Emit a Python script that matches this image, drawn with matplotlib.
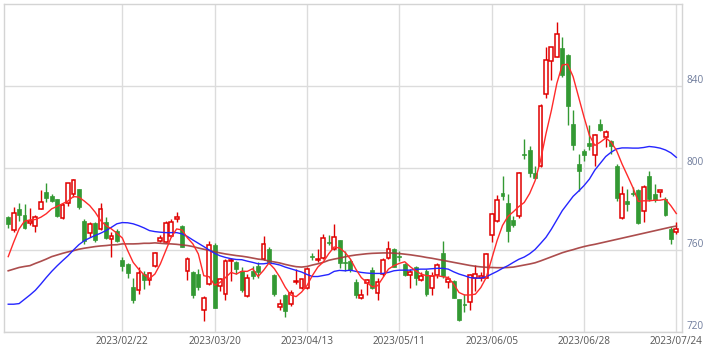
import matplotlib
matplotlib.use("Agg")
import matplotlib.pyplot as plt
from matplotlib.transforms import ScaledTranslation

plt.rcParams['font.family'] = ['Open Sans', 'DejaVu Sans']

# daily candles, oldest first (one per trading day)
opens = [775.7, 769.6, 779.6, 777.0, 773.1, 771.6, 779.9, 788.2, 786.3, 784.8,
         775.5, 782.9, 787.3, 789.4, 774.2, 768.2, 773.2, 770.1, 773.7, 765.2,
         769.3, 755.1, 753.0, 741.9, 740.2, 748.2, 745.1, 752.0, 764.4, 763.7,
         766.7, 775.0, 771.7, 749.7, 749.2, 748.1, 730.4, 743.2, 762.3, 742.4,
         738.3, 754.6, 753.8, 749.4, 737.6, 749.5, 751.8, 755.6, 760.5, 747.4,
         732.2, 738.0, 733.5, 744.0, 741.4, 741.4, 756.7, 754.9, 756.1, 763.9,
         760.5, 764.6, 754.1, 754.6, 744.3, 736.3, 743.5, 750.0, 738.8, 748.1,
         755.9, 760.3, 757.1, 753.0, 747.6, 751.7, 745.1, 749.7, 741.2, 747.6,
         758.4, 744.0, 744.8, 735.7, 733.5, 734.4, 746.4, 746.4, 746.4, 766.9,
         774.2, 787.8, 782.7, 774.5, 776.2, 806.2, 808.7, 797.4, 800.8, 836.1,
         852.1, 854.0, 858.1, 854.9, 821.1, 801.8, 808.3, 812.1, 806.2, 821.1,
         814.9, 813.2, 801.0, 775.3, 783.8, 787.6, 789.2, 778.8, 795.9, 787.3,
         788.1, 784.6, 769.9, 768.6]
highs = [776.6, 780.7, 782.9, 782.4, 780.4, 777.0, 789.2, 792.7, 787.3, 784.8,
         782.7, 792.7, 794.6, 789.7, 774.7, 773.5, 773.7, 782.7, 775.8, 768.5,
         770.1, 756.6, 753.5, 746.4, 751.7, 749.4, 748.9, 758.7, 766.9, 774.2,
         775.0, 778.5, 772.2, 756.2, 749.7, 750.5, 737.3, 764.4, 763.1, 746.4,
         755.4, 755.9, 754.6, 751.5, 748.2, 751.8, 753.8, 766.5, 761.3, 748.2,
         736.0, 738.4, 740.4, 750.7, 745.8, 751.5, 758.4, 760.5, 767.8, 767.3,
         772.4, 764.9, 759.5, 755.4, 745.6, 740.7, 745.6, 751.7, 746.1, 755.9,
         764.4, 760.7, 759.5, 753.3, 750.5, 752.2, 749.2, 750.5, 748.9, 753.3,
         764.4, 747.3, 745.1, 735.8, 738.3, 748.1, 752.7, 749.2, 758.2, 777.8,
         786.5, 795.8, 787.3, 776.5, 797.7, 814.0, 810.3, 801.0, 830.9, 858.6,
         858.6, 871.2, 863.8, 855.2, 827.9, 806.4, 809.0, 820.6, 816.5, 823.5,
         818.1, 813.5, 801.8, 791.2, 789.5, 790.4, 789.5, 791.3, 798.5, 792.0,
         789.2, 785.5, 770.8, 773.7]
lows = [770.6, 768.5, 774.2, 770.1, 772.2, 768.5, 779.9, 783.2, 783.2, 775.8,
        775.0, 781.5, 785.9, 779.9, 762.8, 766.4, 763.6, 769.6, 765.1, 756.2,
        763.6, 749.4, 746.4, 734.2, 738.6, 740.7, 742.7, 751.7, 763.6, 763.6,
        766.4, 773.4, 761.1, 745.1, 736.6, 740.2, 725.2, 742.9, 731.7, 739.9,
        735.3, 744.5, 748.1, 739.3, 737.1, 745.8, 746.1, 755.1, 753.2, 737.6,
        730.6, 727.0, 732.7, 743.3, 740.9, 740.9, 755.1, 754.0, 755.6, 762.1,
        760.0, 751.0, 749.7, 748.9, 736.3, 735.8, 738.0, 740.7, 735.3, 747.3,
        755.4, 751.3, 754.6, 747.3, 741.5, 742.9, 744.8, 737.5, 738.0, 746.4,
        746.4, 741.5, 736.3, 725.2, 729.8, 730.4, 739.6, 744.8, 746.1, 763.6,
        773.4, 784.0, 763.9, 770.8, 775.3, 804.2, 795.6, 794.4, 800.5, 834.1,
        842.6, 853.7, 844.3, 820.6, 808.7, 788.7, 803.4, 808.7, 801.0, 817.8,
        810.0, 806.7, 783.8, 774.8, 778.9, 786.3, 772.7, 773.5, 783.8, 783.0,
        785.5, 776.5, 762.6, 767.8]
closes = [772.4, 778.1, 776.8, 770.4, 773.9, 775.8, 783.3, 785.1, 783.7, 776.3,
          782.0, 792.7, 794.1, 780.7, 764.1, 772.6, 764.7, 779.9, 765.6, 766.7,
          764.1, 752.1, 748.4, 735.5, 748.6, 745.1, 748.6, 758.4, 765.7, 773.1,
          773.5, 776.0, 761.5, 755.4, 737.9, 741.9, 736.3, 762.3, 731.7, 745.6,
          754.6, 754.9, 750.5, 740.1, 746.3, 747.1, 749.1, 762.9, 754.0, 738.4,
          733.5, 729.9, 738.9, 744.5, 745.5, 750.7, 756.4, 755.6, 765.9, 763.4,
          766.2, 753.5, 753.5, 750.0, 738.1, 738.0, 745.1, 741.5, 744.2, 755.1,
          760.3, 751.7, 756.2, 747.8, 748.9, 746.1, 747.1, 738.3, 747.1, 752.7,
          747.3, 745.8, 736.6, 725.5, 733.2, 747.6, 748.1, 747.3, 757.9, 777.5,
          784.0, 786.3, 769.0, 772.2, 797.4, 805.9, 797.2, 794.9, 830.2, 852.3,
          858.6, 865.0, 845.2, 830.0, 810.9, 798.2, 806.0, 810.3, 816.0, 818.1,
          817.5, 810.3, 785.4, 787.1, 782.2, 787.3, 773.2, 790.5, 784.6, 784.3,
          789.2, 777.0, 765.0, 769.9]

# moving average lines
ma_short = [756.6, 763.6, 770.1, 773.9, 774.5, 774.7, 775.8, 777.5, 779.9, 781.1,
            782.4, 783.7, 785.9, 785.6, 783.7, 781.5, 778.3, 774.2, 771.7, 770.1,
            768.0, 765.7, 759.5, 753.8, 750.5, 747.7, 745.9, 748.1, 753.0, 759.5,
            766.0, 770.1, 769.6, 765.7, 762.8, 757.9, 747.3, 746.8, 742.7, 744.0,
            746.4, 748.9, 748.1, 749.5, 749.4, 750.7, 746.9, 749.9, 753.5, 750.7,
            746.6, 741.7, 737.9, 737.1, 739.3, 742.5, 747.4, 751.5, 754.0, 758.0,
            761.3, 760.8, 758.7, 755.4, 750.5, 746.4, 744.0, 741.9, 742.4, 746.4,
            750.5, 752.2, 753.3, 754.1, 751.7, 749.7, 748.1, 747.3, 747.3, 747.3,
            746.8, 746.4, 743.2, 739.1, 737.9, 737.9, 738.3, 741.5, 746.4, 755.4,
            764.4, 771.8, 776.2, 778.5, 781.0, 783.0, 787.4, 793.6, 803.4, 816.5,
            827.9, 841.0, 850.0, 850.4, 844.3, 834.5, 824.7, 815.7, 810.8, 812.4,
            814.4, 812.4, 808.3, 801.8, 796.1, 790.3, 783.5, 783.8, 783.8, 784.1,
            784.1, 784.6, 781.4, 777.6]
ma_mid = [733.4, 733.4, 733.7, 735.8, 737.9, 740.2, 743.2, 746.4, 749.4, 752.1,
          754.6, 757.0, 759.8, 762.4, 764.4, 765.7, 766.9, 768.0, 769.3, 770.9,
          772.6, 773.2, 773.1, 772.6, 771.7, 770.6, 769.3, 768.8, 768.5, 768.3,
          768.3, 768.3, 767.7, 766.4, 764.7, 763.1, 761.5, 759.8, 758.2, 757.0,
          756.2, 755.6, 755.2, 755.1, 754.4, 753.8, 753.1, 753.1, 753.5, 753.1,
          752.5, 751.5, 750.7, 749.9, 749.1, 747.9, 746.9, 746.9, 747.4, 747.9,
          749.4, 749.9, 749.7, 750.0, 749.4, 748.9, 748.6, 748.4, 748.4, 748.4,
          748.9, 749.7, 750.0, 750.0, 750.0, 750.4, 750.5, 750.5, 750.7, 750.9,
          750.9, 750.5, 749.2, 748.1, 747.3, 746.4, 746.1, 746.1, 746.8, 748.1,
          749.4, 750.9, 752.2, 753.8, 755.3, 756.4, 758.0, 760.1, 763.0, 766.0,
          770.0, 774.5, 779.0, 782.5, 786.0, 788.5, 791.2, 794.4, 798.8, 802.1,
          805.4, 807.5, 809.1, 809.6, 809.6, 809.5, 809.5, 809.8, 810.3, 810.0,
          809.5, 808.6, 807.2, 805.0]
ma_long = [749.7, 750.5, 751.3, 751.8, 752.2, 753.3, 754.3, 755.4, 756.6, 757.4,
           758.2, 758.9, 759.5, 760.2, 760.7, 761.1, 761.5, 761.8, 762.0, 762.3,
           762.4, 762.8, 762.8, 762.8, 762.9, 763.1, 763.1, 763.3, 763.1, 762.9,
           762.8, 762.6, 762.3, 762.0, 761.5, 760.8, 760.2, 759.6, 759.0, 758.4,
           757.9, 757.5, 757.1, 756.8, 756.4, 755.9, 755.4, 755.1, 754.4, 754.0,
           753.5, 752.8, 752.2, 751.7, 751.5, 751.8, 752.5, 753.1, 753.8, 754.8,
           755.4, 755.9, 756.5, 757.0, 757.4, 757.7, 758.0, 758.2, 758.3, 758.4,
           758.4, 758.3, 758.1, 757.8, 757.5, 757.1, 756.7, 756.2, 755.8, 755.3,
           754.8, 754.3, 753.8, 753.3, 752.8, 752.3, 751.9, 751.6, 751.4, 751.3,
           751.2, 751.2, 751.3, 751.5, 752.0, 752.5, 753.0, 753.6, 754.5, 755.5,
           756.5, 757.5, 758.5, 759.3, 760.0, 760.8, 761.5, 762.1, 762.6, 763.2,
           763.8, 764.4, 765.0, 765.6, 766.2, 766.8, 767.4, 768.0, 768.6, 769.2,
           769.8, 770.4, 771.0, 771.5]

date_ticks = [21, 38, 55, 72, 89, 106, 123]
date_labels = ['2023/02/22', '2023/03/20', '2023/04/13', '2023/05/11',
               '2023/06/05', '2023/06/28', '2023/07/24']
price_ticks = [720, 760, 800, 840]

UP = '#e00000'
DOWN = '#339933'

fig = plt.figure(figsize=(7.19, 3.52), dpi=100)
ax = fig.add_axes([3.5 / 719, 20.3 / 352, 678.8 / 719, 328.2 / 352])

x = list(range(len(closes)))
for i in x:
    o, h, l, c = opens[i], highs[i], lows[i], closes[i]
    col = UP if c >= o else DOWN
    ax.vlines(i, l, h, color=col, linewidth=1, zorder=2)
    bottom = min(o, c)
    height = max(abs(c - o), 0.5)
    if c >= o:
        ax.bar(i, height, bottom=bottom, width=0.7, facecolor='white',
               edgecolor=UP, linewidth=1.1, zorder=3)
    else:
        ax.bar(i, height, bottom=bottom, width=0.72, facecolor=DOWN,
               edgecolor=DOWN, linewidth=0.5, zorder=3)

ax.plot(x, ma_long, color='#a33a3a', linewidth=1.2, alpha=0.9, zorder=4)
ax.plot(x, ma_mid, color='#2525ff', linewidth=1.0, zorder=4)
ax.plot(x, ma_short, color='#ff2a2a', linewidth=1.0, zorder=5)

ax.set_xlim(-0.87, 124.1)
ax.set_ylim(720, 880)

ax.set_xticks(date_ticks)
ax.set_xticklabels(date_labels)
ax.set_yticks(price_ticks)
ax.yaxis.tick_right()
ax.tick_params(axis='x', length=0, pad=3, labelsize=7.2, labelcolor='#555555')
ax.tick_params(axis='y', length=0, pad=3, labelsize=7.2, labelcolor='#6f7c9c')
shift = ScaledTranslation(0, 0.07, fig.dpi_scale_trans)
for lab in ax.get_yticklabels():
    lab.set_transform(lab.get_transform() + shift)

ax.grid(True, color='#dcdcdc', linewidth=1)
ax.set_axisbelow(True)
for sp in ax.spines.values():
    sp.set_color('#d4d4d4')
    sp.set_linewidth(1)

fig.savefig('out.png', dpi=100)
